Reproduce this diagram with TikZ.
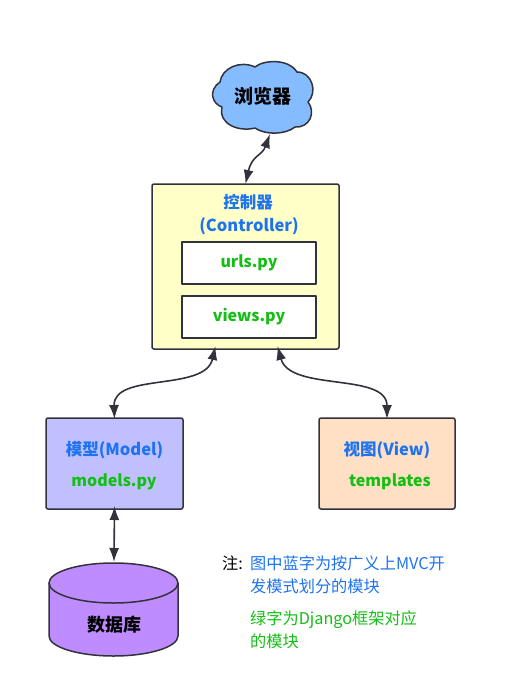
\documentclass[tikz,border=0pt]{standalone}
\usepackage{fontspec}
\setmainfont{Noto Sans CJK SC}
\usetikzlibrary{arrows.meta,calc}

\definecolor{txtblue}{RGB}{30,115,240}
\definecolor{txtgreen}{RGB}{20,190,20}
\definecolor{edgedark}{RGB}{50,50,60}
\definecolor{ctrlfill}{RGB}{255,255,200}
\definecolor{modelfill}{RGB}{192,192,255}
\definecolor{viewfill}{RGB}{255,224,196}
\definecolor{dbfill}{RGB}{191,140,255}
\definecolor{cloudfill}{RGB}{133,187,255}

\tikzset{
  panel/.style={draw=edgedark, line width=1.5pt, rounded corners=2pt, anchor=north west, inner sep=0pt, outer sep=0pt},
  filebox/.style={panel, fill=white, rounded corners=0pt, text=txtgreen, font=\fontsize{16}{20}\selectfont\bfseries},
  bluelabel/.style={anchor=center, inner sep=0pt, text=txtblue, font=\fontsize{16.5}{20}\selectfont\bfseries},
  greenlabel/.style={anchor=center, inner sep=0pt, text=txtgreen, font=\fontsize{16}{20}\selectfont\bfseries},
  blacklabel/.style={anchor=center, inner sep=0pt, text=black, font=\fontsize{19}{23}\selectfont\bfseries},
  notetext/.style={anchor=north west, inner sep=0pt, align=left, font=\fontsize{16.2}{22.7}\selectfont},
  shapeline/.style={draw=edgedark, line width=1.5pt},
  link/.style={draw=edgedark, line width=1.6pt, {Latex[length=14pt,width=10pt]}-{Latex[length=14pt,width=10pt]}},
}

\begin{document}
\begin{tikzpicture}[x=1pt, y=-1pt, line join=round]

  %% ════ 方框 ════
  \node[panel, fill=ctrlfill, minimum width=187pt, minimum height=165pt] (ctrl) at (152,184) {};
  \node[filebox, minimum width=134pt, minimum height=42pt] (urls) at (182,242) {urls.py};
  \node[filebox, minimum width=134pt, minimum height=42pt] (views) at (182,296) {views.py};
  \node[panel, fill=modelfill, minimum width=137pt, minimum height=91pt] (model) at (46,418) {};
  \node[panel, fill=viewfill, minimum width=136pt, minimum height=91pt] (view) at (319,418) {};

  %% ════ 云（手描轮廓）════
  \draw[shapeline, fill=cloudfill] (222,107) .. controls (212,104) and (208,90) .. (220,82)
    .. controls (222,68) and (240,60) .. (255,67)
    .. controls (263,60) and (288,58) .. (297,72)
    .. controls (312,72) and (318,92) .. (308,102)
    .. controls (316,112) and (310,128) .. (295,127)
    .. controls (285,135) and (265,135) .. (255,128)
    .. controls (240,132) and (218,125) .. (222,107) -- cycle;
  \coordinate (cloudbot) at (270,134);

  %% ════ 数据库 ════
  \draw[shapeline, fill=dbfill] (49,583) .. controls (49,572) and (78,563) .. (113.5,563)
    .. controls (149,563) and (178,572) .. (178,583) -- (178,636)
    .. controls (178,647) and (149,656) .. (113.5,656)
    .. controls (78,656) and (49,647) .. (49,636) -- cycle;
  \draw[shapeline] (49,583) .. controls (49,594) and (78,603) .. (113.5,603)
    .. controls (149,603) and (178,594) .. (178,583);
  \coordinate (dbtop) at (114,562);

  %% ════ 标签 ════
  \node[blacklabel] (browser) at (262.5,96) {浏览器};
  \node[bluelabel] (ctrltxt) at (248,202) {控制器};
  \node[bluelabel] (ctrltxtb) at (249,226) {(Controller)};
  \node[bluelabel] (modeltxt) at (114.5,450) {模型(Model)};
  \node[greenlabel] (modelpy) at (114,482) {models.py};
  \node[bluelabel] (viewtxt) at (387,450) {视图(View)};
  \node[greenlabel] (viewtpl) at (390,482) {templates};
  \node[blacklabel, font=\fontsize{18}{22}\selectfont\bfseries] (dbtxt) at (114,625) {数据库};

  %% ════ 注释 ════
  \node[notetext] (notemark) at (222,556) {注:};
  \node[notetext, text=txtblue] (noteblue) at (250,556) {图中蓝字为按广义上MVC开\\发模式划分的模块};
  \node[notetext, text=txtgreen] (notegreen) at (250,611) {绿字为Django框架对应\\的模块};

  %% ════ 连线 ════
  \draw[link] (cloudbot) .. controls (262,156) and (252,155) .. (ctrl.north);
  \draw[link] ([xshift=-30pt,yshift=3pt]ctrl.south) .. controls (205,392) and (113,372) .. ([yshift=-1pt]model.north);
  \draw[link] ([xshift=32pt,yshift=3pt]ctrl.south) .. controls (290,392) and (387,372) .. ([yshift=-1pt]view.north);
  \draw[link] ([yshift=3pt]model.south) -- (dbtop);

  % 钉死画布
  \pgfresetboundingbox
  \path[use as bounding box] (0,0) rectangle (515,680);
\end{tikzpicture}
\end{document}
